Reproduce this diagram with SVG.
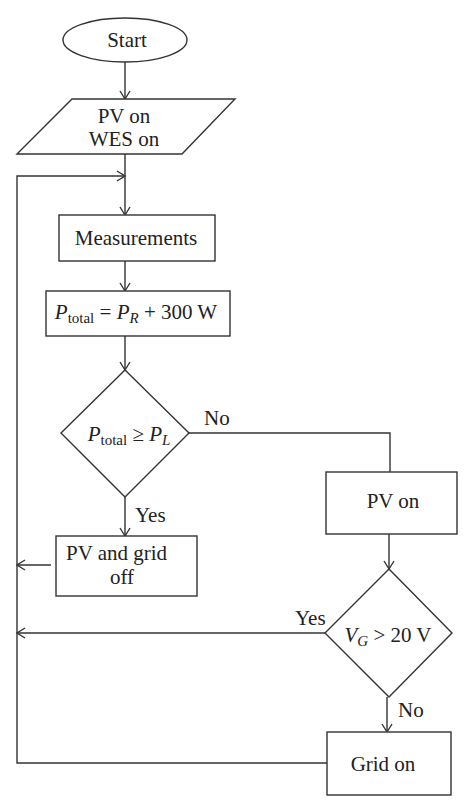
<svg xmlns="http://www.w3.org/2000/svg" width="474" height="812" viewBox="0 0 474 812">
<style>
.s{fill:#fff;stroke:#333;stroke-width:1.4}
.c{fill:none;stroke:#333;stroke-width:1.4}
text{font-family:"Liberation Serif","Times New Roman",serif;font-size:21px;fill:#222}
.m{text-anchor:middle}
.i{font-style:italic}
.sub{font-size:15px}
</style>
<defs>
<marker id="a" markerUnits="userSpaceOnUse" markerWidth="12" markerHeight="12" refX="9" refY="6" orient="auto">
<path d="M1,1 L9,6 L1,11" fill="none" stroke="#333" stroke-width="1.4"/>
</marker>
</defs>
<rect width="474" height="812" fill="#fff"/>
<g id="connectors">
<line class="c" x1="125" y1="62" x2="125" y2="99" marker-end="url(#a)"/>
<line class="c" x1="125" y1="154" x2="125" y2="215" marker-end="url(#a)"/>
<polyline class="c" points="327,763 17,763 17,176 125,176" marker-end="url(#a)"/>
<line class="c" x1="125" y1="261" x2="125" y2="291" marker-end="url(#a)"/>
<line class="c" x1="125" y1="336" x2="125" y2="370" marker-end="url(#a)"/>
<polyline class="c" points="189,433 390,433 390,472"/>
<line class="c" x1="125" y1="497" x2="125" y2="536" marker-end="url(#a)"/>
<line class="c" x1="51" y1="565" x2="17" y2="565" marker-end="url(#a)"/>
<line class="c" x1="389" y1="534" x2="389" y2="569" marker-end="url(#a)"/>
<line class="c" x1="325" y1="633" x2="17" y2="633" marker-end="url(#a)"/>
<line class="c" x1="387" y1="697" x2="387" y2="732" marker-end="url(#a)"/>
<text x="204" y="425">No</text>
<text x="135" y="522">Yes</text>
<text x="295" y="625">Yes</text>
<text x="398" y="717">No</text>
</g>
<g id="start">
<ellipse class="s" cx="125" cy="40" rx="62" ry="22"/>
<text class="m" x="127" y="47">Start</text>
</g>
<g id="pvwes">
<polygon class="s" points="72,99 235,99 182,154 17,154"/>
<text class="m" x="124" y="123">PV on</text>
<text class="m" x="124" y="146">WES on</text>
</g>
<g id="measurements">
<rect class="s" x="59" y="215" width="156" height="46"/>
<text class="m" x="136" y="245">Measurements</text>
</g>
<g id="ptotal">
<rect class="s" x="46" y="291" width="184" height="45"/>
<text class="m" x="136" y="319"><tspan class="i">P</tspan><tspan class="sub" dy="4">total</tspan><tspan dy="-4"> = </tspan><tspan class="i">P</tspan><tspan class="sub i" dy="4">R</tspan><tspan dy="-4"> + 300 W</tspan></text>
</g>
<g id="decision1">
<polygon class="s" points="125,370 189,433 125,497 61,433"/>
<text class="m" x="129" y="441"><tspan class="i">P</tspan><tspan class="sub" dy="4">total</tspan><tspan dy="-4"> ≥ </tspan><tspan class="i">P</tspan><tspan class="sub i" dy="4">L</tspan></text>
</g>
<g id="pvgridoff">
<rect class="s" x="56" y="536" width="141" height="60"/>
<text x="66" y="560">PV and grid</text>
<text class="m" x="122" y="584">off</text>
</g>
<g id="pvon">
<rect class="s" x="326" y="472" width="131" height="62"/>
<text class="m" x="393" y="508">PV on</text>
</g>
<g id="decision2">
<polygon class="s" points="389,569 452,633 389,697 325,633"/>
<text class="m" x="388" y="642"><tspan class="i">V</tspan><tspan class="sub i" dy="4">G</tspan><tspan dy="-4"> &gt; 20 V</tspan></text>
</g>
<g id="gridon">
<rect class="s" x="327" y="732" width="124" height="63"/>
<text class="m" x="383" y="771">Grid on</text>
</g>
</svg>
